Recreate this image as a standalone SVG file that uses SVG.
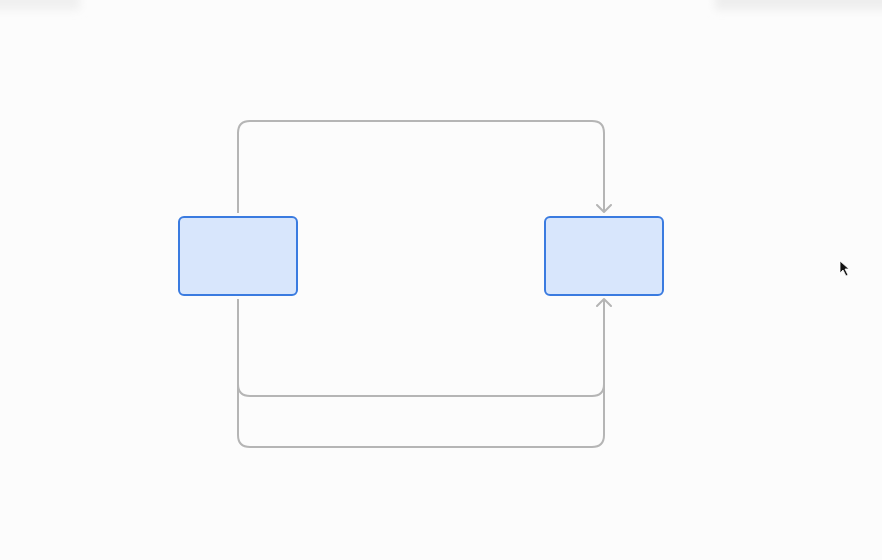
<svg xmlns="http://www.w3.org/2000/svg" width="882" height="560" viewBox="0 0 882 560">
<defs>
<style>
.node{fill:#d8e6fc;stroke:#3a7be0;stroke-width:2}
.edge{fill:none;stroke:#b5b5b5;stroke-width:2;stroke-linejoin:round}
</style>
<filter id="soft" x="-20%" y="-100%" width="140%" height="300%"><feGaussianBlur stdDeviation="4"/></filter>
<marker id="arr" markerWidth="16" markerHeight="16" refX="8" refY="8" orient="auto" markerUnits="userSpaceOnUse">
<path d="M1,1 L8,8 L1,15" fill="none" stroke="#b5b5b5" stroke-width="2" stroke-linecap="round" stroke-linejoin="round"/>
</marker>
</defs>
<rect width="882" height="560" fill="#fcfcfc"/>
<rect x="-10" y="-10" width="90" height="20" fill="#f0f0f0" filter="url(#soft)"/>
<rect x="715" y="-10" width="180" height="20" fill="#eeeeee" filter="url(#soft)"/>
<g id="connectors">
<path class="edge" d="M238,213 V133 Q238,121 250,121 H592 Q604,121 604,133 V212" marker-end="url(#arr)"/>
<path class="edge" d="M238,299 V384 Q238,396 250,396 H592 Q604,396 604,384 V299" marker-end="url(#arr)"/>
<path class="edge" d="M238,299 V435 Q238,447 250,447 H592 Q604,447 604,435 V299"/>
</g>
<g id="node-left"><rect class="node" x="179" y="217" width="118" height="78" rx="5"/></g>
<g id="node-right"><rect class="node" x="545" y="217" width="118" height="78" rx="5"/></g>
<g id="cursor"><path d="M840,261 L840,273 L843,270 L846,276 L848,275 L845,269 L849,269 Z" fill="#111" stroke="#fff" stroke-width="0.8"/></g>
</svg>
